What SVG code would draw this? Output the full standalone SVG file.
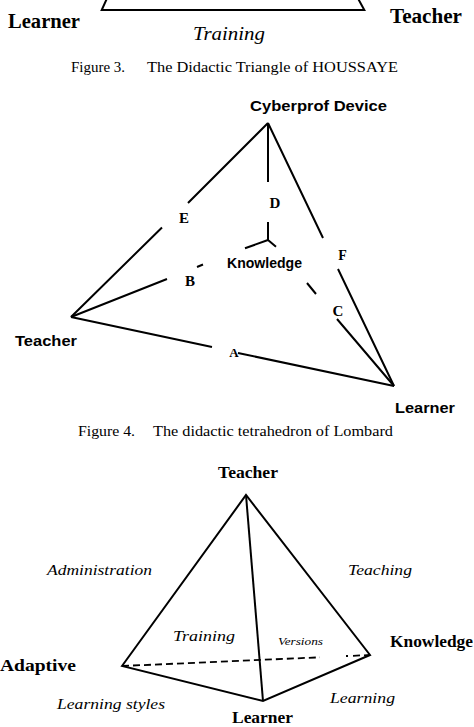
<svg xmlns="http://www.w3.org/2000/svg" width="474" height="727" viewBox="0 0 474 727">
<style>
.ln{stroke:#000;stroke-width:2;fill:none;stroke-linecap:butt}
.dash{stroke:#000;stroke-width:1.8;fill:none;stroke-dasharray:7 4}
.sb{font-family:"Liberation Serif","Times New Roman",serif;font-weight:bold;fill:#000}
.si{font-family:"Liberation Serif","Times New Roman",serif;font-style:italic;fill:#000}
.sr{font-family:"Liberation Serif","Times New Roman",serif;fill:#000}
.ab{font-family:"Liberation Sans",Arial,sans-serif;font-weight:bold;fill:#000}
</style>
<rect width="474" height="727" fill="#fff"/>

<!-- Figure 3 -->
<g id="fig3-connectors">
<path class="ln" d="M106.7,-1 L101.7,10 L364.3,10 L358.3,-1"/>
</g>
<g id="fig3-learner"><text class="sb" x="8" y="28" font-size="20.5" textLength="72" lengthAdjust="spacingAndGlyphs">Learner</text></g>
<g id="fig3-teacher"><text class="sb" x="390" y="23" font-size="20.5" textLength="72" lengthAdjust="spacingAndGlyphs">Teacher</text></g>
<g id="fig3-training"><text class="si" x="193" y="40" font-size="18.5" textLength="72" lengthAdjust="spacingAndGlyphs">Training</text></g>
<g id="fig3-caption">
<text class="sr" x="71" y="72" font-size="15.5" textLength="54" lengthAdjust="spacingAndGlyphs">Figure 3.</text>
<text class="sr" x="147" y="72" font-size="15.5" textLength="251" lengthAdjust="spacingAndGlyphs">The Didactic Triangle of HOUSSAYE</text>
</g>

<!-- Figure 4 -->
<g id="fig4-connectors">
<path class="ln" d="M268,123 L188,203 M162,227.5 L71,317"/>
<path class="ln" d="M268,123 L268,182 M268,222 L268,240 M268,240 L245,248.3 M268,240 L276,246.7"/>
<path class="ln" d="M268,123 L323,238 M338,269 L394,386"/>
<path class="ln" d="M394,386 L337,319 M307,283 L316,294"/>
<path class="ln" d="M71,317 L167,279 M197,267 L203,264.5"/>
<path class="ln" d="M71,317 L212,347 M238,353 L394,386"/>
</g>
<g id="fig4-cyberprof"><text class="ab" x="250" y="111" font-size="15" textLength="137" lengthAdjust="spacingAndGlyphs">Cyberprof Device</text></g>
<g id="fig4-knowledge"><text class="ab" x="227" y="268" font-size="14" textLength="75" lengthAdjust="spacingAndGlyphs">Knowledge</text></g>
<g id="fig4-teacher"><text class="ab" x="15" y="346" font-size="15" textLength="62" lengthAdjust="spacingAndGlyphs">Teacher</text></g>
<g id="fig4-learner"><text class="ab" x="395" y="413" font-size="15.5" textLength="60" lengthAdjust="spacingAndGlyphs">Learner</text></g>
<g id="fig4-labels">
<text class="sb" x="184" y="222.5" font-size="15" text-anchor="middle">E</text>
<text class="sb" x="275" y="208" font-size="15" text-anchor="middle">D</text>
<text class="sb" x="342.5" y="260" font-size="14" text-anchor="middle">F</text>
<text class="sb" x="190" y="285.5" font-size="15" text-anchor="middle">B</text>
<text class="sb" x="338" y="315.5" font-size="15" text-anchor="middle">C</text>
<text class="sb" x="234" y="357" font-size="13" text-anchor="middle">A</text>
</g>
<g id="fig4-caption">
<text class="sr" x="78" y="436" font-size="15.5" textLength="57" lengthAdjust="spacingAndGlyphs">Figure 4.</text>
<text class="sr" x="153" y="436" font-size="15.5" textLength="240" lengthAdjust="spacingAndGlyphs">The didactic tetrahedron of Lombard</text>
</g>

<!-- Figure 5 -->
<g id="fig5-connectors">
<path class="ln" d="M122,666 L246,495 L370,655 L263,701 Z"/>
<path class="ln" d="M246,495 L263,701"/>
<path class="dash" d="M122,666 L320,657.3"/>
<path class="dash" d="M346,656 L348,656 M353,655.8 L370,655"/>
</g>
<g id="fig5-teacher"><text class="sb" x="218" y="478" font-size="17" textLength="60" lengthAdjust="spacingAndGlyphs">Teacher</text></g>
<g id="fig5-knowledge"><text class="sb" x="390" y="647" font-size="17" textLength="83" lengthAdjust="spacingAndGlyphs">Knowledge</text></g>
<g id="fig5-adaptive"><text class="sb" x="0" y="671" font-size="17" textLength="76" lengthAdjust="spacingAndGlyphs">Adaptive</text></g>
<g id="fig5-learner"><text class="sb" x="232" y="723" font-size="16" textLength="61" lengthAdjust="spacingAndGlyphs">Learner</text></g>
<g id="fig5-labels">
<text class="si" x="47" y="575" font-size="15" textLength="105" lengthAdjust="spacingAndGlyphs">Administration</text>
<text class="si" x="348" y="575" font-size="15" textLength="64" lengthAdjust="spacingAndGlyphs">Teaching</text>
<text class="si" x="173" y="641" font-size="15" textLength="62" lengthAdjust="spacingAndGlyphs">Training</text>
<text class="si" x="278" y="645" font-size="10.5" textLength="45" lengthAdjust="spacingAndGlyphs">Versions</text>
<text class="si" x="57" y="709" font-size="15" textLength="108" lengthAdjust="spacingAndGlyphs">Learning styles</text>
<text class="si" x="330" y="703" font-size="15" textLength="65" lengthAdjust="spacingAndGlyphs">Learning</text>
</g>
</svg>
